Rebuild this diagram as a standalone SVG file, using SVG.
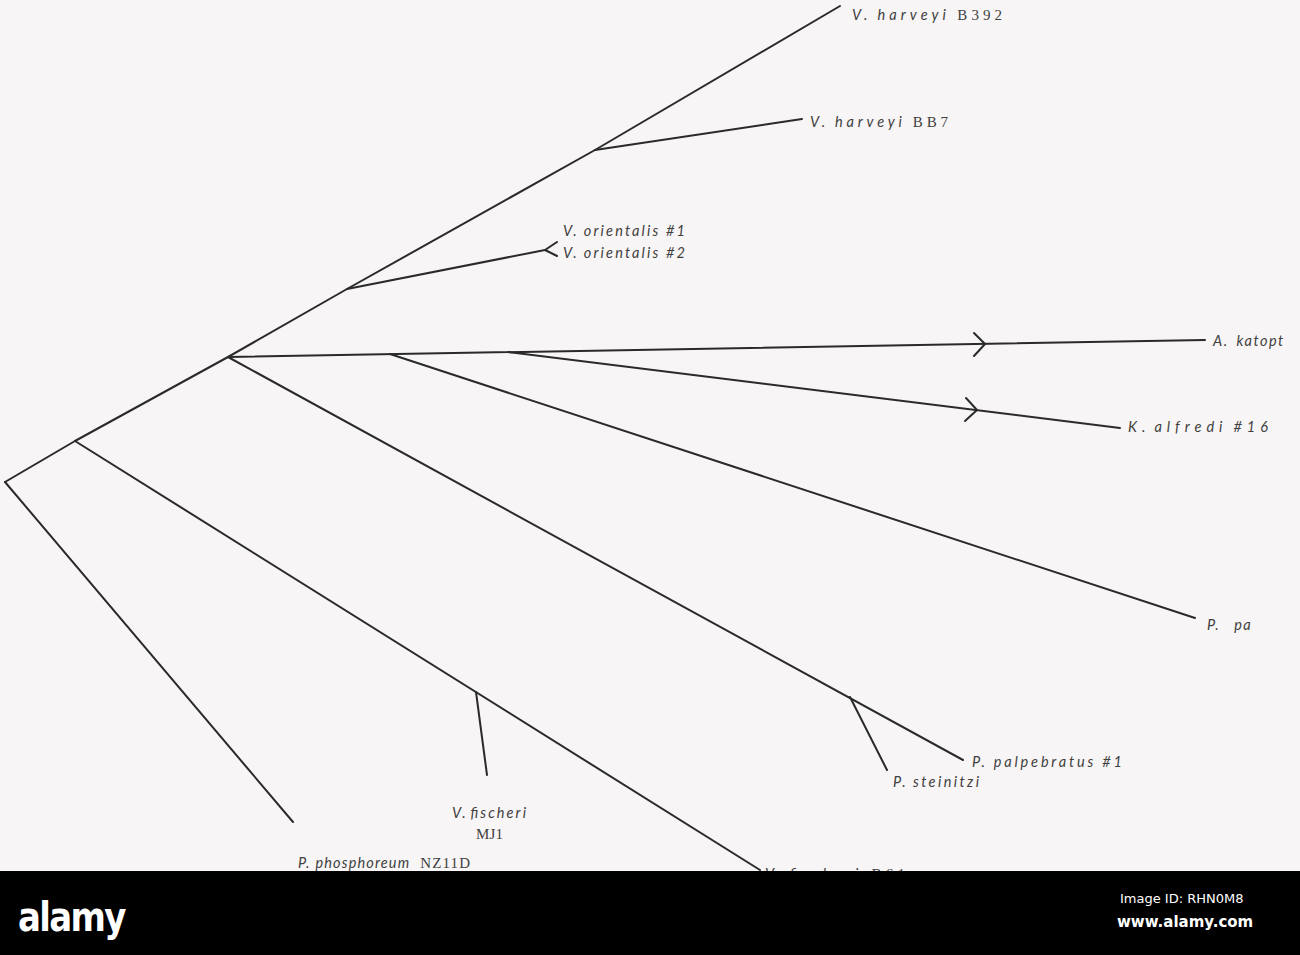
<svg xmlns="http://www.w3.org/2000/svg" width="1300" height="955" viewBox="0 0 1300 955">
<style>
.br{fill:none;stroke:#2a2a2a;stroke-width:2;stroke-linecap:round;stroke-linejoin:round}
.lb{font-family:Lato,"Open Sans","DejaVu Sans",sans-serif;font-size:14.5px;font-style:italic;fill:#3f3f3f}
.st{font-family:"Liberation Serif",serif;font-style:normal;font-size:15px}
.wm{font-family:"DejaVu Sans",sans-serif;fill:#fff}
</style>
<rect width="1300" height="955" fill="#f7f5f5"/>
<g id="connectors">
<polyline class="br" points="5,482 75,441 228,357 347,289 595,150 840,6"/>
<line class="br" x1="595" y1="150" x2="802" y2="119"/>
<polyline class="br" points="347,289 545,250 557,242"/>
<line class="br" x1="545" y1="250" x2="557" y2="256"/>
<line class="br" x1="228" y1="357" x2="1205" y2="340"/>
<polyline class="br" points="974,333 985,344 974,356"/>
<line class="br" x1="508" y1="352" x2="1120" y2="428"/>
<polyline class="br" points="966,398 977,410 965,421"/>
<line class="br" x1="390" y1="354" x2="1195" y2="618"/>
<line class="br" x1="228" y1="357" x2="963" y2="760"/>
<line class="br" x1="850" y1="697" x2="887" y2="770"/>
<line class="br" x1="75" y1="441" x2="760" y2="870"/>
<line class="br" x1="476" y1="692" x2="487" y2="775"/>
<line class="br" x1="5" y1="482" x2="293" y2="822"/>
</g>
<g id="n-harveyi-b392"><text class="lb" x="852" y="20" textLength="150">V.<tspan dx="6">harveyi</tspan> <tspan class="st">B392</tspan></text></g>
<g id="n-harveyi-bb7"><text class="lb" x="810" y="127" textLength="138">V.<tspan dx="6">harveyi</tspan> <tspan class="st">BB7</tspan></text></g>
<g id="n-orientalis-1"><text class="lb" x="563" y="236" textLength="122">V.<tspan dx="5">orientalis</tspan> #1</text></g>
<g id="n-orientalis-2"><text class="lb" x="563" y="258" textLength="122">V.<tspan dx="5">orientalis</tspan> #2</text></g>
<g id="n-katopt"><text class="lb" x="1213" y="346" letter-spacing="1.5">A.<tspan dx="8">katopt</tspan></text></g>
<g id="n-alfredi"><text class="lb" x="1128" y="432" textLength="140">K.<tspan dx="4">alfredi</tspan><tspan dx="6">#16</tspan></text></g>
<g id="n-pa"><text class="lb" x="1207" y="630" letter-spacing="1.5">P.<tspan dx="14">pa</tspan></text></g>
<g id="n-palpebratus"><text class="lb" x="972" y="767" textLength="150">P.<tspan dx="6">palpebratus</tspan> #1</text></g>
<g id="n-steinitzi"><text class="lb" x="893" y="787" textLength="86">P.<tspan dx="5">steinitzi</tspan></text></g>
<g id="n-fischeri-mj1"><text class="lb" x="452" y="818" textLength="74">V.<tspan dx="3">fischeri</tspan></text><text class="lb st" x="476" y="839" textLength="27">MJ1</text></g>
<g id="n-phosphoreum"><text class="lb" x="298" y="868" textLength="172">P.<tspan dx="5">phosphoreum</tspan><tspan class="st" dx="10">NZ11D</tspan></text></g>
<g id="n-fischeri-b61"><text class="lb" x="765" y="879" textLength="140">V.<tspan dx="5">fischeri</tspan><tspan class="st" dx="9">B61</tspan></text></g>
<g id="footer">
<rect x="0" y="871" width="1300" height="84" fill="#000"/>
<text class="wm" x="18" y="931" font-size="40" font-weight="bold" letter-spacing="-2" transform="translate(18 0) scale(0.85 1) translate(-18 0)">alamy</text>
<text class="wm" x="1120" y="903" font-size="13">Image ID: RHN0M8</text>
<text class="wm" x="1117" y="927" font-size="15" font-weight="bold">www.alamy.com</text>
</g>
</svg>
